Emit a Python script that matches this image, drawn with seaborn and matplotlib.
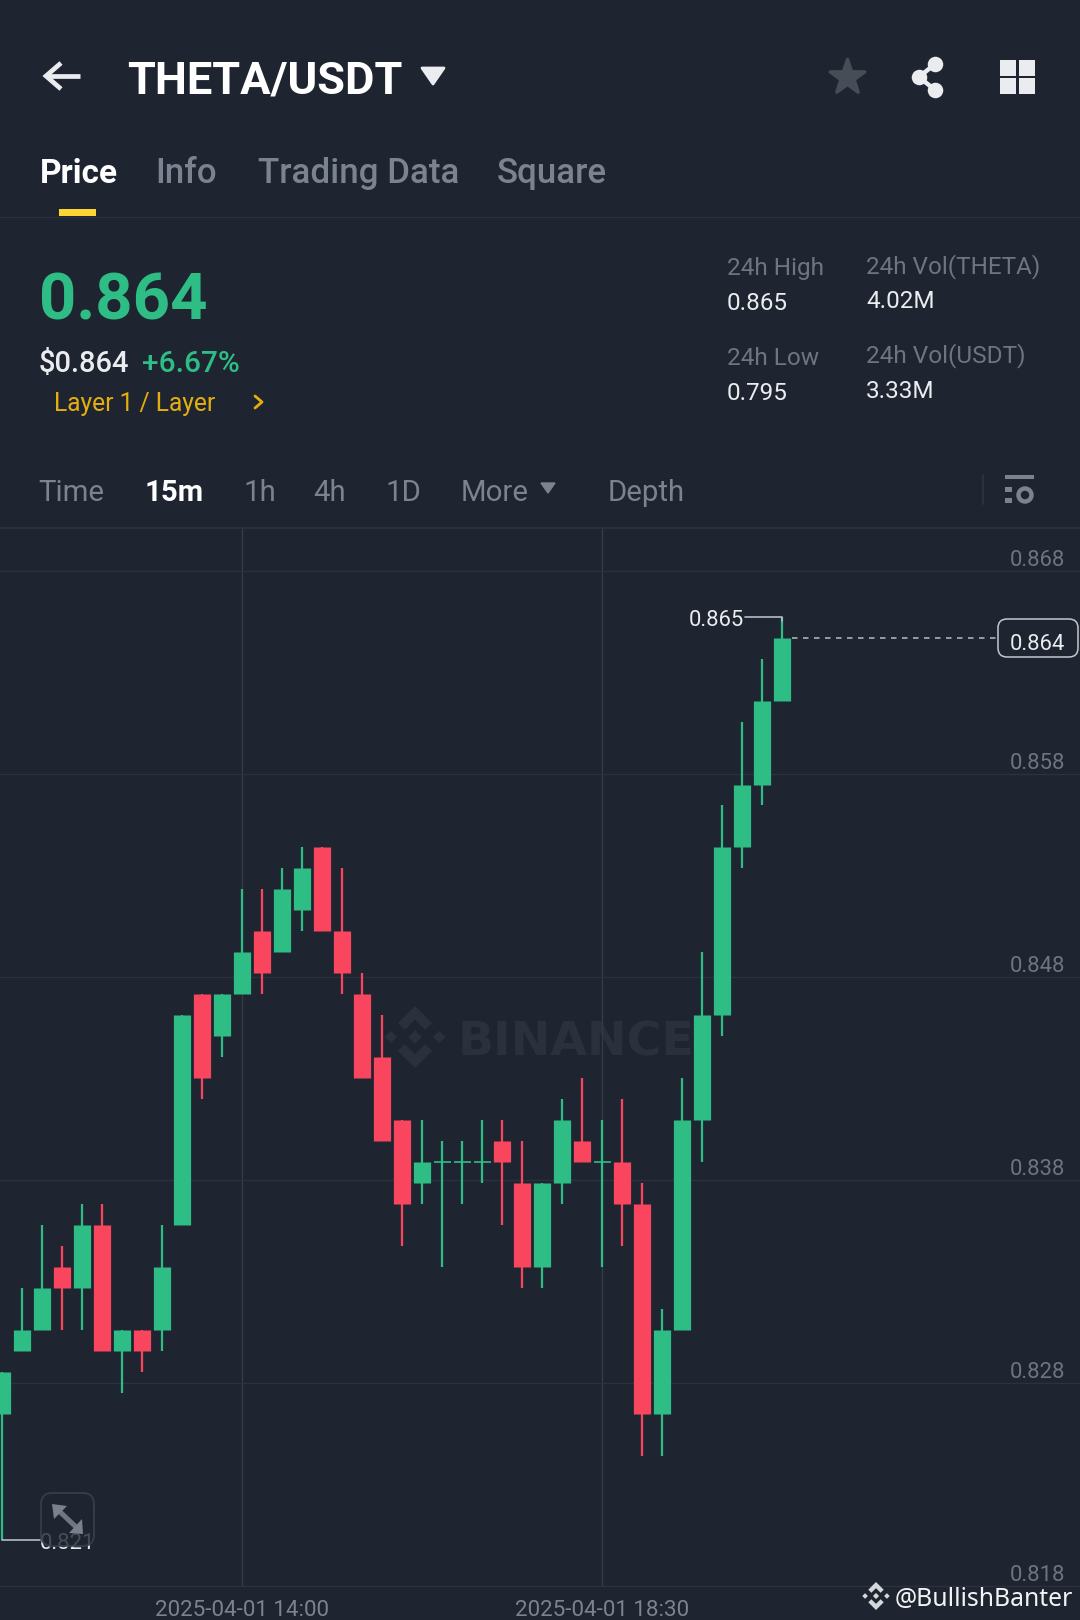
"""THETA/USDT 15m candlestick screen, redrawn with seaborn."""
import matplotlib
matplotlib.use("Agg")
import matplotlib.pyplot as plt
from matplotlib.patches import Circle, FancyBboxPatch, Polygon, Rectangle
import pandas as pd
import seaborn as sns

# === DATA ===
opens = [.827, .830, .831, .834, .833, .836, .830, .831, .831, .836,
         .847, .845, .847, .850, .849, .851, .854, .850, .847, .844,
         .841, .838, .839, .839, .839, .840, .838, .834, .838, .840,
         .839, .839, .837, .827, .831, .841, .846, .854, .857, .861]
closes = [.829, .831, .833, .833, .836, .830, .831, .830, .834, .846,
          .843, .847, .849, .848, .852, .853, .850, .848, .843, .840,
          .837, .839, .839, .839, .839, .839, .834, .838, .841, .839,
          .839, .837, .827, .831, .841, .846, .854, .857, .861, .864]
highs = [.829, .833, .836, .835, .837, .837, .831, .831, .836, .846,
         .847, .847, .852, .852, .853, .854, .854, .853, .848, .846,
         .841, .841, .840, .840, .841, .841, .840, .838, .842, .843,
         .841, .842, .838, .832, .843, .849, .856, .860, .863, .865]
lows = [.821, .830, .831, .831, .831, .830, .828, .829, .830, .836,
        .842, .844, .847, .847, .849, .850, .850, .847, .843, .840,
        .835, .837, .834, .837, .838, .836, .833, .833, .837, .839,
        .834, .835, .825, .825, .831, .839, .845, .853, .856, .861]

price_ticks = [.86719, .85752, .84783, .83813, .82847, .81877]
price_labels = ["0.868", "0.858", "0.848", "0.838", "0.828", "0.818"]
time_ticks = [12, 30]
time_labels = ["2025-04-01 14:00", "2025-04-01 18:30"]

symbol = "THETA/USDT"
last_price = "0.864"
usd_price = "$0.864"
change = "+6.67%"
tabs = ["Price", "Info", "Trading Data", "Square"]
intervals = ["Time", "15m", "1h", "4h", "1D", "More", "Depth"]

# === COLOURS ===
BG = "#1E2530"
GRID = "#2B323D"
VGRID = "#343B47"
GREEN = "#2EBD85"
RED = "#F9455E"
WHITE = "#EAECEF"
GRAY = "#7C8390"
DIM = "#6E7582"
MARK = "#2A303C"

sns.set_theme(style="dark", rc={
    "figure.facecolor": BG,
    "axes.facecolor": "none",
    "savefig.facecolor": BG,
    "ytick.alignment": "bottom",
})
plt.rcParams["font.family"] = ["Roboto", "DejaVu Sans"]

# === FIGURE AND LAYERS ===
W, H = 1080, 1620
fig = plt.figure(figsize=(W / 100, H / 100), dpi=100)


def pixel_layer(z):
    layer = fig.add_axes([0, 0, 1, 1], zorder=z)
    layer.set_xlim(0, W)
    layer.set_ylim(H, 0)
    layer.axis("off")
    return layer


back = pixel_layer(0)
top = pixel_layer(2)

# chart area runs from y=528 to y=1587, 20 px per candle, 20.977 px per 0.001
def price_at(y):
    return 0.865 - (y - 616.7) / 20977


ax = fig.add_axes([0, 1 - 1587 / H, 1, (1587 - 528) / H], zorder=1)
ax.set_xlim(-0.12, 53.88)
ax.set_ylim(price_at(1587), price_at(528))

candles = pd.DataFrame({"idx": range(len(opens)), "open": opens, "close": closes,
                        "high": highs, "low": lows})
candles["side"] = ["up" if c >= o else "down" for o, c in zip(opens, closes)]
palette = {"up": GREEN, "down": RED}

wicks = candles.melt(id_vars=["idx", "side"], value_vars=["low", "high"], value_name="price")
bodies = candles[candles["open"] != candles["close"]].melt(
    id_vars=["idx", "side"], value_vars=["open", "close"], value_name="price")

sns.lineplot(data=wicks, x="idx", y="price", units="idx", hue="side", estimator=None,
             palette=palette, linewidth=1.6, solid_capstyle="butt", sort=False,
             legend=False, ax=ax, zorder=3)
sns.lineplot(data=bodies, x="idx", y="price", units="idx", hue="side", estimator=None,
             palette=palette, linewidth=12.4, solid_capstyle="butt", sort=False,
             legend=False, ax=ax, zorder=4)

# open == close, a flat tick
doji = candles[candles["open"] == candles["close"]]
ax.hlines(doji["open"], doji["idx"] - 0.43, doji["idx"] + 0.43, color=GREEN, lw=1.2, zorder=4)

ax.set_xticks(time_ticks, time_labels)
ax.set_yticks(price_ticks, price_labels)
ax.set_xlabel("")
ax.set_ylabel("")
ax.grid(True, axis="y", color=GRID, lw=1.0)
ax.grid(True, axis="x", color=VGRID, lw=1.0)
ax.set_axisbelow(True)
for side in ("left", "right", "bottom"):
    ax.spines[side].set_visible(False)
ax.spines["top"].set_color(GRID)
ax.tick_params(axis="x", length=0, pad=9, labelsize=16.1, labelcolor=GRAY)
ax.tick_params(axis="y", length=0, left=False, labelleft=False, labelright=True,
               pad=-10.8, labelsize=15.8, labelcolor=DIM)
for t in ax.get_yticklabels():
    t.set_ha("right")


# === HELPERS ===
def label(layer, x, y, s, color=WHITE, size=18, weight="normal", ha="left", z=3):
    return layer.text(x, y, s, color=color, fontsize=size, fontweight=weight, ha=ha, va="baseline", zorder=z)


def logo(layer, cx, cy, s, color, z=1):
    """Binance diamond mark, s is half its extent in px."""
    upper = [(0, 1), (.55, .45), (.33, .23), (0, .56), (-.33, .23), (-.55, .45)]
    shapes = [upper, [(px, -py) for px, py in upper]]
    for ox, r in ((0, .22), (-.78, .2), (.78, .2)):
        shapes.append([(ox, r), (ox + r, 0), (ox, -r), (ox - r, 0)])
    for shape in shapes:
        layer.add_patch(Polygon([(cx + s * px, cy - s * py) for px, py in shape],
                                closed=True, fc=color, ec="none", zorder=z))


# === HEADER ===
top.plot([46, 80], [76, 76], color=WHITE, lw=3.4, solid_capstyle="butt")
top.plot([61, 46, 61], [63, 76, 89], color=WHITE, lw=3.4, solid_joinstyle="miter", solid_capstyle="butt")
label(top, 127.5, 93.5, symbol, color="white", size=32.6, weight="bold")
top.add_patch(Polygon([(422, 68), (444, 68), (433, 84)], fc=WHITE, ec=WHITE, lw=2, joinstyle="round"))

top.scatter([847], [77], s=680, marker="*", color="#474D57", edgecolors="#474D57", linewidths=2.5)
top.plot([935, 919, 935], [64, 77, 90], color=WHITE, lw=3.2)
top.scatter([935, 919, 935], [64, 77, 90], s=125, color=WHITE, linewidths=0)
for gx in (1000, 1019):
    for gy in (60, 78):
        top.add_patch(Rectangle((gx, gy), 15.5, 15.5, fc=WHITE, ec="none"))

for x, s, c, w, fs in zip((39.5, 155, 258, 497), tabs, ("white", GRAY, GRAY, GRAY),
                          ("bold", "medium", "medium", "medium"), (24, 25.2, 25.2, 25.2)):
    label(top, x, 183, s, color=c, size=fs, weight=w)
top.add_patch(Rectangle((59, 209), 37, 7, fc="#FCD535", ec="none"))
top.plot([0, W], [217, 217], color=GRID, lw=1)

# === PRICE BLOCK ===
label(top, 39, 319.5, last_price, color=GREEN, size=47, weight="bold")
label(top, 39, 372, usd_price, color=WHITE, size=21, weight="medium")
label(top, 142, 372, change, color=GREEN, size=21.4, weight="medium")
label(top, 54, 411, "Layer 1 / Layer", color="#E5AE10", size=17.7)
top.plot([255, 262, 255], [396, 402, 408], color="#E5AE10", lw=2)

label(top, 727, 275, "24h High", color=DIM, size=17.6)
label(top, 727, 310, "0.865", color=WHITE, size=17.5)
label(top, 727, 365, "24h Low", color=DIM, size=17.6)
label(top, 727, 400, "0.795", color=WHITE, size=17.5)
label(top, 866, 273, "24h Vol(THETA)", color=DIM, size=17.5)
label(top, 866, 308, "4.02M", color=WHITE, size=17.5)
label(top, 866, 362, "24h Vol(USDT)", color=DIM, size=17.6)
label(top, 866, 398, "3.33M", color=WHITE, size=17.5)

# === INTERVAL ROW ===
for x, s in zip((38, 145, 243, 313, 386, 461, 607.5), intervals):
    on = s == "15m"
    label(top, x, 501, s, color="white" if on else GRAY, size=21.2, weight="bold" if on else "normal")
top.add_patch(Polygon([(541, 483), (555, 483), (548, 493)], fc=GRAY, ec=GRAY, lw=1))
top.plot([983, 983], [475, 504], color=GRID, lw=1.5)
top.add_patch(Rectangle((1005, 475), 29, 4, fc=GRAY, ec="none"))
top.add_patch(Rectangle((1005, 487), 7, 5, fc=GRAY, ec="none"))
top.add_patch(Rectangle((1005, 498), 7, 5, fc=GRAY, ec="none"))
top.add_patch(Circle((1025, 495), 6.5, fc="none", ec=GRAY, lw=3.2))

# === WATERMARKS ===
logo(back, 415, 1037, 31, MARK)
back.text(458, 1055.5, "BINANCE", color=MARK, fontsize=34, fontweight="bold", family="DejaVu Sans",
          ha="left", va="baseline")

logo(top, 876, 1596, 14, "#D5D8DC")
top.text(895, 1606, "@BullishBanter", color="#F2F3F5", fontsize=17.8, family="Noto Sans", ha="left", va="baseline")

# === PRICE MARKERS ===
top.plot([745, 782, 782], [616.7, 616.7, 621], color="#B7BDC6", lw=1.2)
label(top, 689, 626, "0.865", color=WHITE, size=15.8)
top.plot([2.4, 40], [1540, 1540], color="#B7BDC6", lw=1.2)
label(top, 40, 1549, "0.821", color=WHITE, size=15.8, z=1)

top.plot([792, 997], [637.7, 637.7], color="#B7BDC6", lw=1.1, ls=(0, (3.6, 3.6)))
top.add_patch(FancyBboxPatch((998, 619), 80, 38, boxstyle="round,pad=0,rounding_size=9",
                             fc=BG, ec="#C4C8CE", lw=1.1))
label(top, 1065, 650, last_price, color=WHITE, size=15.8, ha="right")

# expand button over the chart
top.add_patch(FancyBboxPatch((41, 1493), 53, 53, boxstyle="round,pad=0,rounding_size=11",
                             fc=BG, ec="#3A414C", lw=1.5, alpha=0.8, zorder=2))
top.plot([76, 57], [1527, 1509], color="#6F7683", lw=3.6, solid_capstyle="butt", zorder=3)
top.add_patch(Polygon([(52, 1504), (67, 1506), (54, 1519)], fc="#7A808C", ec="none", zorder=3))
top.add_patch(Polygon([(83, 1534), (82, 1519), (69, 1533)], fc="#7A808C", ec="none", zorder=3))

fig.savefig("out.png", dpi=100)
print("saved out.png")
